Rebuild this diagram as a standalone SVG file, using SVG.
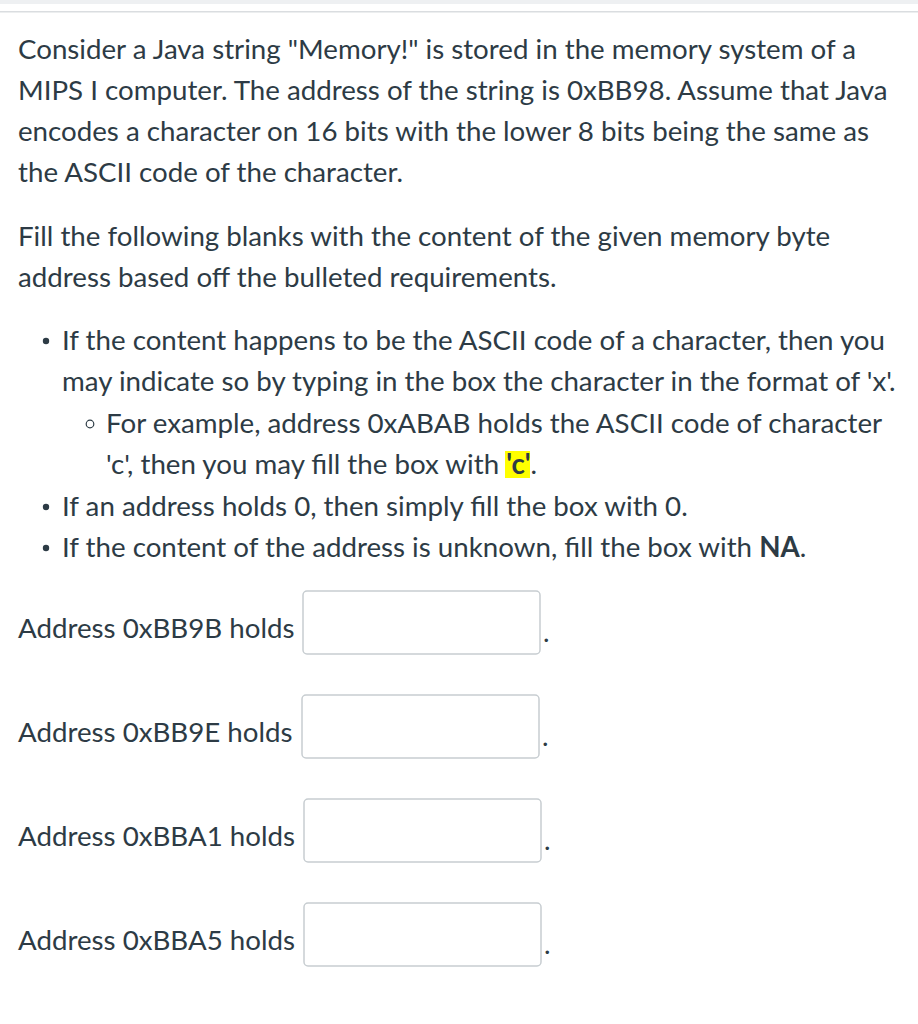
<svg xmlns="http://www.w3.org/2000/svg" width="918" height="1024" viewBox="0 0 918 1024">
<style>
text{font-family:Lato,"Open Sans",sans-serif;font-size:27.7px;fill:#2d3b45}
.box{fill:#fff;stroke:#c7cdd1;stroke-width:1.5}
</style>
<rect width="918" height="1024" fill="#fff"/>
<rect width="918" height="4" fill="#eef0f2"/>
<rect y="11" width="918" height="1.5" fill="#dadde0"/>
<text x="18" y="59">Consider a Java string "Memory!" is stored in the memory system of a</text>
<text x="18" y="100">MIPS I computer. The address of the string is 0xBB98. Assume that Java</text>
<text x="18" y="141">encodes a character on 16 bits with the lower 8 bits being the same as</text>
<text x="18" y="182">the ASCII code of the character.</text>
<text x="18" y="246">Fill the following blanks with the content of the given memory byte</text>
<text x="18" y="287">address based off the bulleted requirements.</text>
<circle cx="46" cy="341" r="3.2" fill="#2d3b45"/>
<text x="62" y="350">If the content happens to be the ASCII code of a character, then you</text>
<text x="62" y="391">may indicate so by typing in the box the character in the format of 'x'.</text>
<circle cx="90" cy="424" r="3.8" fill="none" stroke="#2d3b45" stroke-width="1.2"/>
<text x="106" y="433">For example, address 0xABAB holds the ASCII code of character</text>
<rect x="505" y="451" width="25" height="27" fill="#ffff00"/>
<text x="106" y="474">'c', then you may fill the box with <tspan font-weight="bold">'c'</tspan>.</text>
<circle cx="46" cy="507" r="3.2" fill="#2d3b45"/>
<text x="62" y="516">If an address holds 0, then simply fill the box with 0.</text>
<circle cx="46" cy="548" r="3.2" fill="#2d3b45"/>
<text x="62" y="557">If the content of the address is unknown, fill the box with <tspan font-weight="bold">NA</tspan>.</text>
<g id="q1"><text x="18" y="638">Address 0xBB9B holds</text><rect class="box" x="303" y="591" width="237" height="63" rx="4"/><text x="543" y="642">.</text></g>
<g id="q2"><text x="18" y="742">Address 0xBB9E holds</text><rect class="box" x="302" y="695" width="237" height="63" rx="4"/><text x="542" y="746">.</text></g>
<g id="q3"><text x="18" y="846">Address 0xBBA1 holds</text><rect class="box" x="304" y="799" width="237" height="63" rx="4"/><text x="544" y="850">.</text></g>
<g id="q4"><text x="18" y="950">Address 0xBBA5 holds</text><rect class="box" x="304" y="903" width="237" height="63" rx="4"/><text x="544" y="954">.</text></g>
</svg>
